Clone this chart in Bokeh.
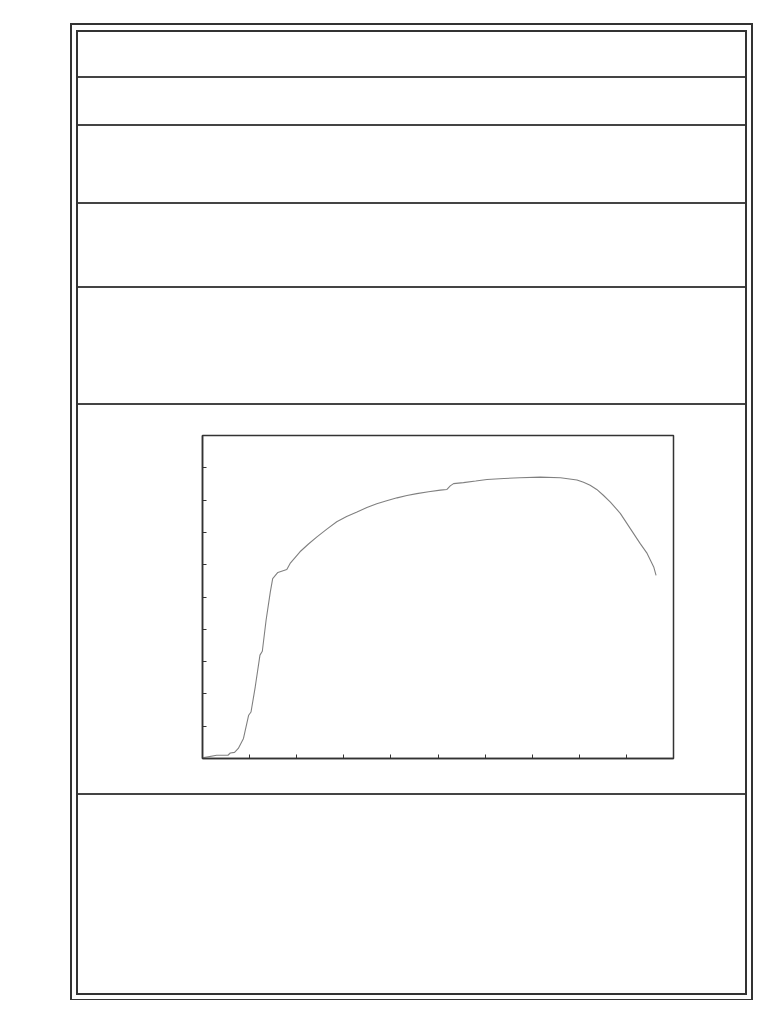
from bokeh.plotting import figure
from bokeh.models import FixedTicker, Range1d, InlineStyleSheet
from bokeh.embed import file_html
from bokeh.resources import INLINE

# Curve (x: 0..10 divisions, y: 0..10 divisions)
strain = [0.0, 0.30, 0.54, 0.59, 0.68, 0.76, 0.87, 0.98, 1.03, 1.12, 1.22, 1.27, 1.35,
          1.44, 1.49, 1.60, 1.79, 1.86, 2.07, 2.25, 2.43, 2.64, 2.85, 3.06, 3.28, 3.49,
          3.70, 3.91, 4.13, 4.34, 4.55, 4.80, 5.05, 5.19, 5.26, 5.33, 5.54, 5.80, 6.04,
          6.40, 6.74, 7.17, 7.60, 7.95, 8.09, 8.23, 8.37, 8.51, 8.66, 8.87, 9.01, 9.15,
          9.29, 9.44, 9.51, 9.58, 9.63]
stress = [0.02, 0.10, 0.10, 0.17, 0.19, 0.31, 0.62, 1.34, 1.44, 2.22, 3.20, 3.32, 4.28,
          5.16, 5.57, 5.76, 5.85, 6.04, 6.40, 6.64, 6.86, 7.10, 7.33, 7.49, 7.63, 7.77,
          7.89, 7.98, 8.07, 8.14, 8.20, 8.26, 8.31, 8.33, 8.44, 8.51, 8.54, 8.59, 8.64,
          8.67, 8.69, 8.71, 8.69, 8.62, 8.55, 8.46, 8.33, 8.15, 7.94, 7.59, 7.28, 6.97,
          6.66, 6.35, 6.14, 5.93, 5.67]
x_ticks = [1, 2, 3, 4, 5, 6, 7, 8, 9]
y_ticks = [1, 2, 3, 4, 5, 6, 7, 8, 9]

W, H = 760, 1000

# page frame drawn as CSS background behind the (transparent) canvas border area
def hline(x0, x1, y, t=2, c="#333333"):
    return f"linear-gradient({c},{c}) {x0}px {y}px / {x1 - x0}px {t}px no-repeat"

def vline(x, y0, y1, t=2, c="#333333"):
    return f"linear-gradient({c},{c}) {x}px {y0}px / {t}px {y1 - y0}px no-repeat"

bgs = [
    hline(70, 753, 23), hline(70, 753, 999), vline(70, 23, 1001), vline(751, 23, 1001),
    hline(76, 747, 30), hline(76, 747, 993), vline(76, 30, 995), vline(745, 30, 995),
]
for yy in [76, 124, 202, 286, 403, 793]:
    bgs.append(hline(76, 747, yy, c="#444444"))
css = ":host { background: " + ", ".join(bgs) + ", #ffffff; }"

p = figure(width=W, height=H, output_backend="svg", toolbar_location=None,
           x_range=Range1d(0, 10), y_range=Range1d(0, 10),
           min_border_left=202, min_border_right=87,
           min_border_top=435, min_border_bottom=242,
           stylesheets=[InlineStyleSheet(css=css)])
p.grid.visible = False
p.background_fill_color = "white"
p.border_fill_color = None
p.outline_line_color = "#333333"
p.outline_line_width = 1.5

for ax in (p.xaxis[0], p.yaxis[0]):
    ax.major_label_text_font_size = "0px"
    ax.major_label_text_color = None
    ax.major_tick_in = 4
    ax.major_tick_out = 0
    ax.minor_tick_line_color = None
    ax.axis_line_color = "#333333"
    ax.axis_line_width = 1.5
    ax.major_tick_line_color = "#333333"
    ax.major_tick_line_width = 1
p.xaxis[0].ticker = FixedTicker(ticks=x_ticks)
p.yaxis[0].ticker = FixedTicker(ticks=y_ticks)

p.line(strain, stress, line_color="#808080", line_width=1.1)

open("out.html", "w").write(file_html(p, INLINE))
